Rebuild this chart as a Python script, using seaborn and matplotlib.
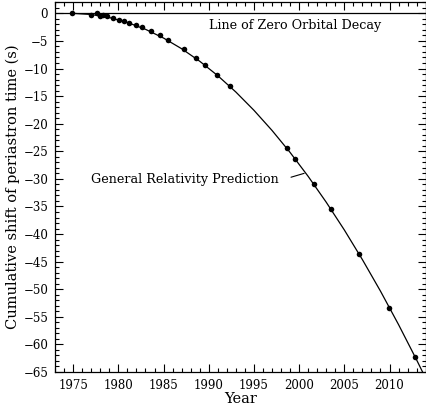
import matplotlib
matplotlib.use("Agg")
import matplotlib.pyplot as plt
from matplotlib.ticker import MultipleLocator
import seaborn as sns
import pandas as pd

obs_year = [1974.82, 1976.93, 1977.59, 1977.92, 1978.32, 1978.77, 1979.36, 1980.09,
            1980.61, 1981.16, 1981.91, 1982.57, 1983.60, 1984.60, 1985.52, 1987.23,
            1988.55, 1989.62, 1990.95, 1992.35, 1998.63, 1999.58, 2001.69, 2003.50,
            2006.64, 2009.99, 2012.84]
obs_shift = [0.1, -0.25, 0.0, -0.49, -0.36, -0.49, -0.80, -1.27,
             -1.45, -1.70, -2.12, -2.54, -3.26, -3.99, -4.89, -6.52,
             -8.04, -9.37, -11.18, -13.10, -24.35, -26.40, -30.98, -35.40,
             -43.55, -53.33, -62.30]

# General Relativity prediction curve
gr_year = [1974.8, 1975, 1977, 1979, 1981, 1983, 1985, 1987, 1989, 1991, 1993, 1995,
           1997, 1999, 2001, 2003, 2005, 2007, 2009, 2011, 2013, 2014]
gr_shift = [0.0, 0.0, -0.21, -0.76, -1.65, -2.89, -4.48, -6.41, -8.68, -11.30, -14.26,
            -17.57, -21.22, -25.21, -29.55, -34.24, -39.26, -44.64, -50.35, -56.42,
            -62.82, -66.15]

xticks = [1975, 1980, 1985, 1990, 1995, 2000, 2005, 2010]
yticks = [0, -5, -10, -15, -20, -25, -30, -35, -40, -45, -50, -55, -60, -65]

sns.set_style("ticks")
plt.rcParams['font.family'] = ['DejaVu Serif', 'DejaVu Sans']
plt.rcParams['axes.unicode_minus'] = True
plt.rcParams['text.color'] = 'black'
plt.rcParams['axes.labelcolor'] = 'black'
plt.rcParams['xtick.color'] = 'black'
plt.rcParams['ytick.color'] = 'black'

fig = plt.figure(figsize=(4.27, 4.07), dpi=100)
ax = fig.add_axes([0.129, 0.086, 0.869, 0.909])

obs = pd.DataFrame({"year": obs_year, "shift": obs_shift})
gr = pd.DataFrame({"year": gr_year, "shift": gr_shift})

ax.axhline(0, color="black", lw=0.9, zorder=1)
sns.lineplot(data=gr, x="year", y="shift", ax=ax, color="black", lw=0.9,
             sort=False, estimator=None, zorder=2)
sns.scatterplot(data=obs, x="year", y="shift", ax=ax, color="black", s=16,
                edgecolor="black", linewidth=0, zorder=3)

ax.set_xlim(1973.0, 2014.05)
ax.set_ylim(-65, 2.05)
ax.set_xticks(xticks)
ax.set_yticks(yticks)
ax.xaxis.set_minor_locator(MultipleLocator(1))
ax.yaxis.set_minor_locator(MultipleLocator(1))
ax.tick_params(which="both", direction="in", top=True, right=True,
               labelsize=8.5, width=0.8, colors="black", labelcolor="black", pad=5)
ax.tick_params(which="major", length=5.8)
ax.tick_params(which="minor", length=2.9)
for s in ax.spines.values():
    s.set_linewidth(0.9)
    s.set_color("black")

ax.set_xlabel("Year", fontsize=10.5, labelpad=0, color="black")
ax.set_ylabel("Cumulative shift of periastron time (s)", fontsize=10.5,
              labelpad=2, color="black")

ax.text(1990.0, -2.15, "Line of Zero Orbital Decay", fontsize=9.2, ha="left",
        va="center", color="black")
ax.text(1977.0, -30.2, "General Relativity Prediction", fontsize=9.2, ha="left",
        va="center", color="black")
ax.annotate("", xy=(2000.55, -29.0), xytext=(1999.1, -29.7),
            arrowprops=dict(arrowstyle="-", color="black", lw=0.8,
                            shrinkA=0, shrinkB=0))

fig.savefig("out.png", dpi=100)
